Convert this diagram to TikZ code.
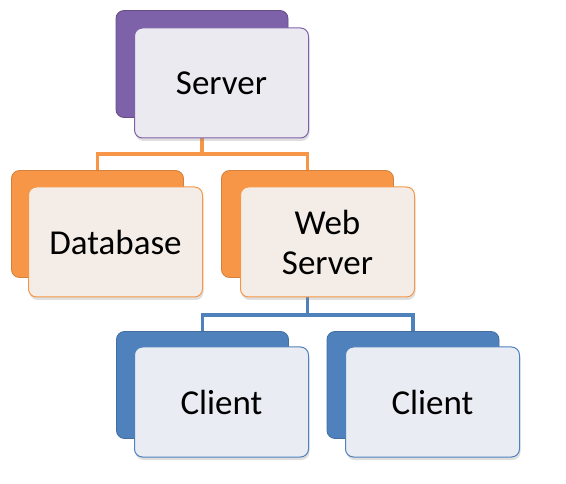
\documentclass[tikz,border=0pt]{standalone}
\usepackage{fontspec}
\setmainfont{Carlito}
\usetikzlibrary{shadows}

\definecolor{srvdark}{HTML}{7E62A9}
\definecolor{srvlight}{HTML}{ECEAF1}
\definecolor{dbdark}{HTML}{F79646}
\definecolor{dblight}{HTML}{F4EDE7}
\definecolor{cldark}{HTML}{4F81BD}
\definecolor{cllight}{HTML}{E9EDF3}

\tikzset{
    backbox/.style={rounded corners=8pt, minimum width=172pt, minimum height=107pt,
        inner sep=0pt, line width=0.8pt},
    frontbox/.style={rounded corners=8pt, minimum width=174pt, minimum height=110pt,
        inner sep=0pt, line width=1pt, align=center, font=\fontsize{35}{40}\selectfont,
        drop shadow={opacity=0.25, shadow xshift=1pt, shadow yshift=-3pt}},
    link/.style={line width=3.8pt}
}

\begin{document}
\begin{tikzpicture}[x=1pt,y=-1pt]

            \useasboundingbox (0,0) rectangle (566,484);

            % back boxes
            \node[backbox, fill=srvdark, draw=srvdark!80!black] (srvback) at (202,64) {};
            \node[backbox, fill=dbdark, draw=dbdark!85!black] (dbback) at (97.5,224) {};
            \node[backbox, fill=dbdark, draw=dbdark!85!black] (webback) at (307.5,224) {};
            \node[backbox, fill=cldark, draw=cldark!85!black] (claback) at (202.5,385) {};
            \node[backbox, fill=cldark, draw=cldark!85!black] (clbback) at (413,385) {};

            % connectors
            \path[draw, link, draw=dbdark] (srvback.south) -- ++(0,36) -| (dbback.north);
            \path[draw, link, draw=dbdark] (srvback.south) ++(0,36) -| (webback.north);
            \path[draw, link, draw=cldark] (webback.south) -- ++(0,37.5) -| (claback.north);
            \path[draw, link, draw=cldark] (webback.south) ++(0,37.5) -| (clbback.north);

            % front boxes
            \node[frontbox, fill=srvlight, draw=srvdark] (srv) at (221.5,83) {Server};
            \node[frontbox, fill=dblight, draw=dbdark] (db) at (115.5,242) {Database};
            \node[frontbox, fill=dblight, draw=dbdark] (web) at (327.5,242) {Web\\Server};
            \node[frontbox, fill=cllight, draw=cldark] (cla) at (221.5,402) {Client};
            \node[frontbox, fill=cllight, draw=cldark] (clb) at (432.5,402) {Client};

\end{tikzpicture}
\end{document}
